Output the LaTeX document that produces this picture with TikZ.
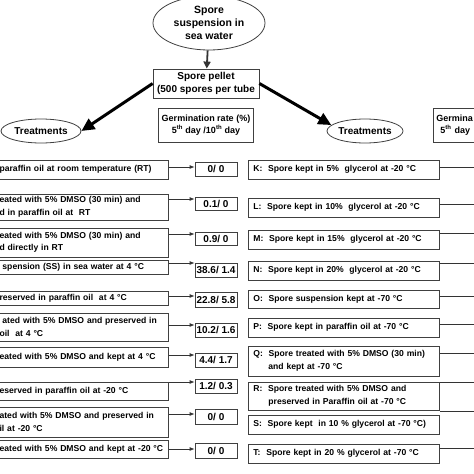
\documentclass[tikz,border=0pt]{standalone}
\usepackage{fontspec}
\setmainfont{Liberation Sans}
\usetikzlibrary{arrows.meta,shapes.geometric}

\begin{document}
\begin{tikzpicture}[x=1pt, y=-1pt]
	\tikzstyle{every node}=[font=\bfseries\fontsize{8.6}{12.5}\selectfont]
	\tikzstyle{box}=[draw=black!75, line width=0.8pt, inner ysep=0pt]
	\tikzstyle{lbox}=[box, anchor=east, text width=167pt, inner xsep=2pt, align=left]
	\tikzstyle{rbox}=[box, anchor=west, text width=181pt, inner xsep=5pt, align=left]
	\tikzstyle{res}=[box, minimum width=42pt, inner xsep=0pt, font=\bfseries\fontsize{10}{12}\selectfont]
	\tikzstyle{oval}=[draw=black!75, line width=0.8pt, ellipse, inner sep=0pt, align=center]
	\tikzstyle{link}=[black!80, line width=0.8pt]
	\tikzstyle{arr}=[link, -{Latex[length=5pt, width=4pt]}]
	\tikzstyle{bigarr}=[black, line width=3pt, -{Triangle[length=13pt, width=12pt]}]

	\useasboundingbox (0,0) rectangle (474,474);

	%top
	\node[oval, minimum width=112pt, minimum height=54pt, font=\bfseries\fontsize{10.5}{13}\selectfont] (susp) at (209,23) {Spore\\suspension in\\sea water};
	\node[box, minimum width=106pt, minimum height=29pt, align=center, font=\bfseries\fontsize{10}{13}\selectfont] (pellet) at (206,83.5) {Spore pellet\\(500 spores per tube};
	\draw[arr, line width=1.8pt, -{Triangle[length=7pt, width=7pt]}] (susp) -- (pellet);

	%treatments
	\node[oval, minimum width=80pt, minimum height=24pt, font=\bfseries\fontsize{10}{12}\selectfont] (treatL) at (41,131) {Treatments};
	\node[oval, minimum width=76pt, minimum height=24pt, font=\bfseries\fontsize{10}{12}\selectfont] (treatR) at (365,131) {Treatments};
	\draw[bigarr] (pellet.west) -- (treatL.east);
	\draw[bigarr] (pellet.east) -- (treatR.170);

	%germination headers
	\node[box, minimum width=94pt, minimum height=34pt, align=center, font=\bfseries\fontsize{9}{12.5}\selectfont] (rateL) at (206,125) {Germination rate (\%)\\5\textsuperscript{th} day /10\textsuperscript{th} day};
	\node[box, anchor=west, text width=50pt, inner xsep=3pt, minimum height=34pt, align=left, font=\bfseries\fontsize{9}{12.5}\selectfont] (rateR) at (433,125) {Germina\\\hspace*{4pt}5\textsuperscript{th} day};

	%left column
	\foreach \i/\lc/\lh/\rc/\rh/\ay/\p/\q/\txt in {
		1/169.5/19/169/14/167/0/0/{paraffin oil at room temperature (RT)},
		2/207/26/203.5/13/199/0.1/0/{eated with 5\% DMSO (30 min) and\\d in paraffin oil at\ \ RT},
		3/242.5/29/238.5/13/234/0.9/0/{eated with 5\% DMSO (30 min) and\\d directly in RT},
		4/267.5/14/270/14/263/38.6/1.4/{\ spension (SS) in sea water at 4 °C},
		5/298.5/14/299.5/15/296/22.8/5.8/{reserved in paraffin oil\ \ at 4 °C},
		6/327/28/330/14/325/10.2/1.6/{\ ated with 5\% DMSO and preserved in\\oil\ \ at 4 °C},
		7/357/20/360/14/355/4.4/1.7/{eated with 5\% DMSO and kept at 4 °C},
		8/391/18/386/14/382/1.2/0.3/{eserved in paraffin oil at -20 °C},
		9/422/30/416.5/15/414/0/0/{ated with 5\% DMSO and preserved in\\il at -20 °C},
		10/449/18/450.5/15/449/0/0/{eated with 5\% DMSO and kept at -20 °C}}
	{
		\node[lbox, minimum height=\lh pt] (l\i) at (169,\lc) {\txt};
		\node[res, minimum height=\rh pt] (r\i) at (216,\rc) {\p/ \q};
		\draw[arr] (l\i.east |- 0,\ay) -- (r\i.west |- 0,\ay);
	}

	%right column
	\foreach \n/\c/\h/\ly/\txt in {
		K/169.5/19/167/{K:\ \ Spore kept in 5\%\ \ glycerol at -20 °C},
		L/207.5/19/204/{L:\ \ Spore kept in 10\%\ \ glycerol at -20 °C},
		M/239.5/19/233/{M:\ \ Spore kept in 15\%\ \ glycerol at -20 °C},
		N/270.5/19/263/{N:\ \ Spore kept in 20\%\ \ glycerol at -20 °C},
		O/299/18/296/{O:\ \ Spore suspension kept at -70 °C},
		P/327.5/19/324/{P:\ \ Spore kept in paraffin oil at -70 °C},
		Q/361/30/353/{Q:\ \ Spore treated with 5\% DMSO (30 min)\\\hspace*{15pt}and kept at -70 °C},
		R/396/28/382/{R:\ \ Spore treated with 5\% DMSO and\\\hspace*{15pt}preserved in Paraffin oil at -70 °C},
		S/424.5/19/411/{S:\ \ Spore kept\ \ in 10 \% glycerol at -70 °C)},
		T/453.5/19/448/{T:\ \ Spore kept in 20 \% glycerol at -70 °C}}
	{
		\node[rbox, minimum height=\h pt] (t\n) at (248,\c) {\txt};
		\coordinate (e\n) at (476,\ly);
		\draw[link] (t\n.east |- e\n) -- (e\n);
	}
\end{tikzpicture}
\end{document}
